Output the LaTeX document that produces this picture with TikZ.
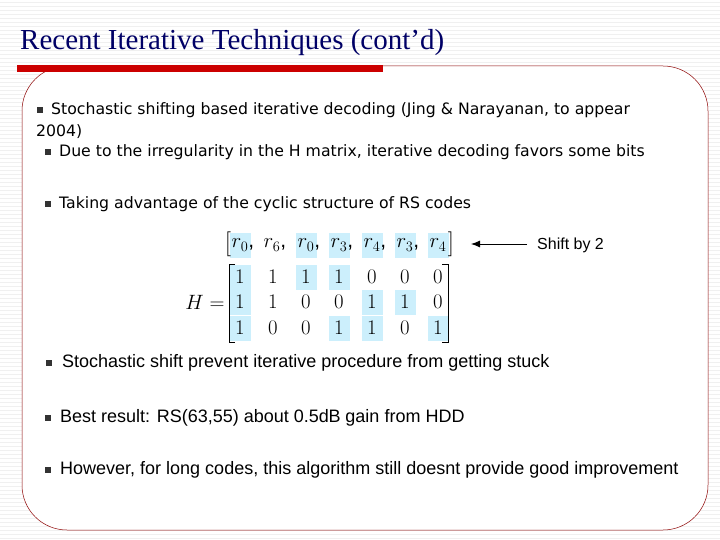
\documentclass[tikz,border=0pt]{standalone}
\usepackage{fontspec}
\usetikzlibrary{arrows.meta}
\setmainfont{Liberation Sans}
\newfontfamily\verd{DejaVu Sans}
\newfontfamily\tserif{Liberation Serif}
\begin{document}
\begin{tikzpicture}[x=1pt,y=-1pt,
  txt/.style={anchor=west,inner sep=0pt,font=\fontsize{18}{20}\selectfont},
  vtxt/.style={anchor=west,inner sep=0pt,font=\verd\fontsize{15.7}{18}\selectfont},
  bul/.style={fill=black!80,minimum size=5.5pt,inner sep=0pt},
  hl/.style={fill=cyan!20,minimum width=21pt,minimum height=25pt,inner sep=0pt},
  ent/.style={inner sep=0pt,font=\fontsize{21}{23}\selectfont}]
\useasboundingbox (0,0) rectangle (720,540);
\fill[white] (0,0) rectangle (720,540);
\foreach \y in {2,6,...,538} \draw[black!6,line width=0.6pt] (0,\y) -- (720,\y);
\fill[white, rounded corners=45pt] (22,66) rectangle (708,530);
\draw[red!55!black,line width=0.5pt,rounded corners=45pt] (22,66) rectangle (708,530);
\fill[red!80!black] (17,65) rectangle (383,72);
\node[anchor=west,inner sep=0pt,text=blue!40!black,font=\tserif\fontsize{29}{31}\selectfont] (title) at (20,43) {Recent Iterative Techniques (cont’d)};
\node[bul] (b1) at (40,110) {};
\node[vtxt] (t1) at (51,110) {Stochastic shifting based iterative decoding (Jing \& Narayanan, to appear};
\node[vtxt] (t1b) at (36,132) {2004)};
\node[bul] (b2) at (48,152) {};
\node[vtxt] (t2) at (59,152) {Due to the irregularity in the H matrix, iterative decoding favors some bits};
\node[bul] (b3) at (48,204) {};
\node[vtxt] (t3) at (59,204) {Taking advantage of the cyclic structure of RS codes};
% highlights
\foreach \x/\y in {240/245,306/245,339/245,372/245,405/245,438/245,
  240/277,306/277,339/277,240/302,372/302,405/302,240/328,339/328,372/328,438/328}
  \node[hl] at (\x,\y) {};
\node[ent] (v0) at (228,244) {\fontsize{26}{26}\selectfont$[$};
\foreach \x/\s [count=\i] in {240/0,272/6,306/0,339/3,372/4,405/3}
  \node[ent] (r\i) at (\x,245) {$r_{\s}$\rlap{,}};
\node[ent] (r7) at (438,245) {$r_{4}$};
\node[ent] (v8) at (451,244) {\fontsize{26}{26}\selectfont$]$};
\node[ent] (H) at (205,302) {$H=$};
\foreach \row/\y in {{1,1,1,1,0,0,0}/277,{1,1,0,0,1,1,0}/302,{1,0,0,1,1,0,1}/328}{
  \foreach \v [count=\c] in \row {
    \pgfmathsetmacro\xx{240+33*(\c-1)}
    \node[ent] at (\xx,\y) {$\v$};}}
\draw[line width=0.9pt] (235,264) -- (229,264) -- (229,342) -- (235,342);
\draw[line width=0.9pt] (442,264) -- (448,264) -- (448,342) -- (442,342);
\coordinate (as) at (527,244);
\node[txt,font=\fontsize{16}{18}\selectfont] (shift) at (537,245) {Shift by 2};
\draw[-{Latex[length=9pt,width=7pt]},line width=0.9pt] (as) -- (471,244);
\node[bul] (b4) at (49,363) {};
\node[txt] (t4) at (62,363) {Stochastic shift prevent iterative procedure from getting stuck};
\node[bul] (b5) at (48,418) {};
\node[txt] (t5) at (60,418) {Best result: RS(63,55) about 0.5d\kern-0.5ptB gain from HDD};
\node[bul] (b6) at (48,470) {};
\node[txt] (t6) at (60,470) {However, for long codes, this algorithm still doesnt provide good improvement};
\end{tikzpicture}
\end{document}
